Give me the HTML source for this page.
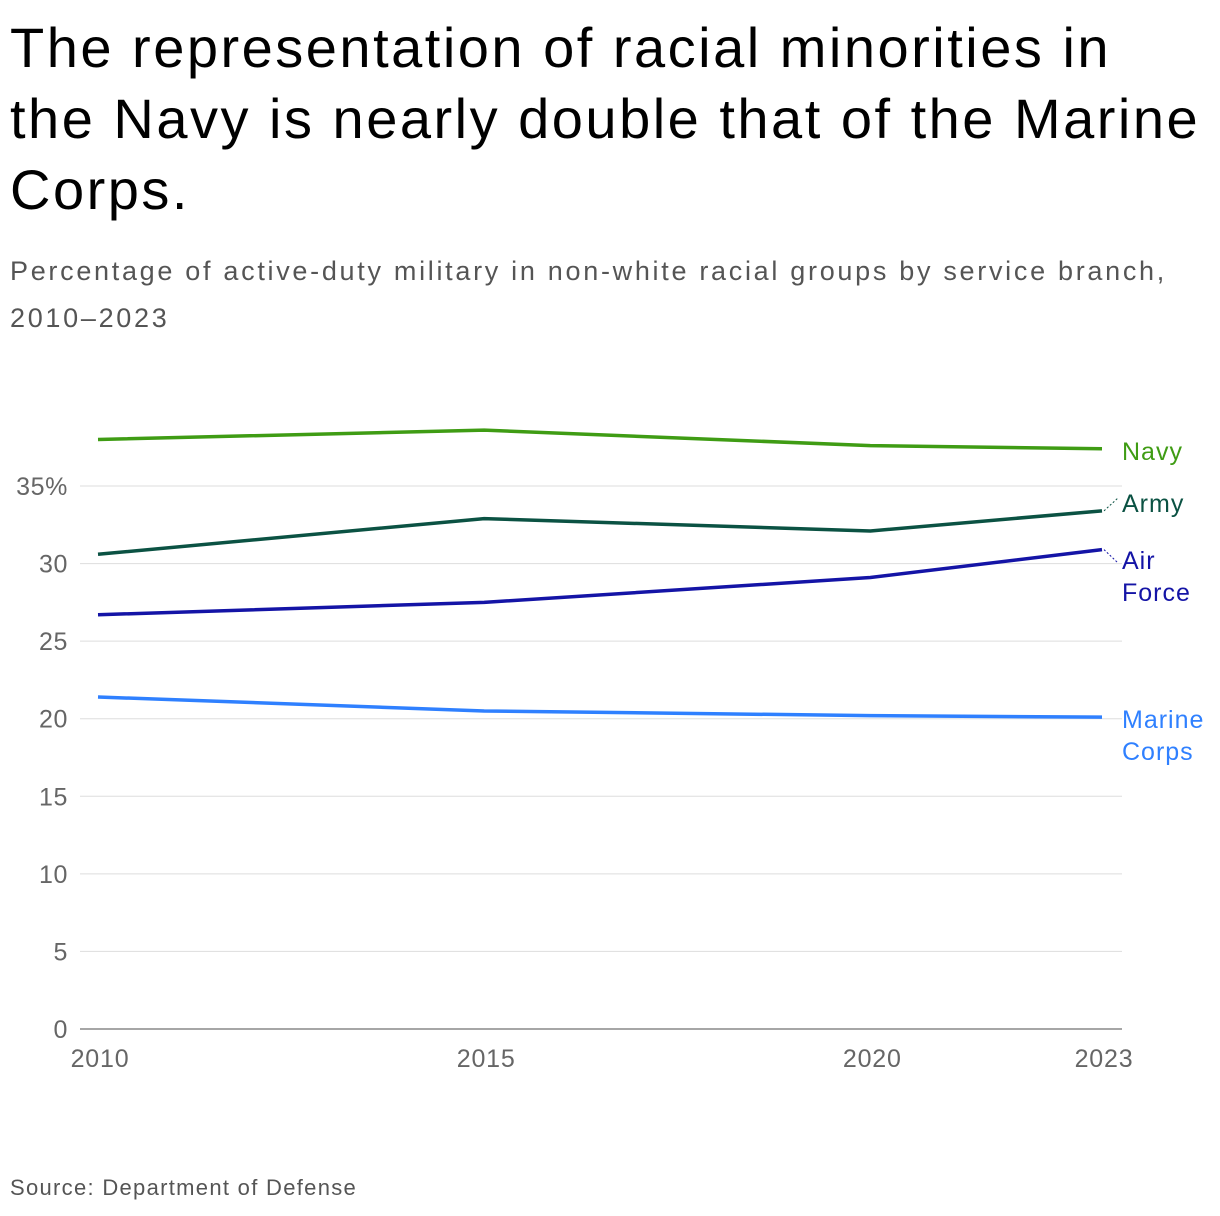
<!DOCTYPE html>
<html><head><meta charset="utf-8">
<style>
body{margin:0;background:#fff;width:1220px;height:1216px;overflow:hidden;font-family:"Liberation Sans",sans-serif;position:relative}
#title{position:absolute;left:10px;top:12px;font-size:56px;line-height:71px;color:#000;margin:0;font-weight:normal;letter-spacing:2.5px;white-space:nowrap}
#sub{position:absolute;left:10px;top:248px;font-size:27px;line-height:47px;color:#555;white-space:nowrap;letter-spacing:2.7px}
#src{position:absolute;left:10px;top:1175px;font-size:22px;color:#555;letter-spacing:1.3px}
svg{position:absolute;left:0;top:0}
</style></head><body>
<h1 id="title">The representation of racial minorities in<br>the Navy is nearly double that of the Marine<br>Corps.</h1>
<div id="sub">Percentage of active-duty military in non-white racial groups by service branch,<br>2010–2023</div>
<div id="src">Source: Department of Defense</div>
<svg id="chart" width="1220" height="1216"></svg>
<script>
const years=[2010,2015,2020,2023];
const yTicks=[0,5,10,15,20,25,30,35];
const navy=[38.0,38.6,37.6,37.4];
const army=[30.6,32.9,32.1,33.4];
const airForce=[26.7,27.5,29.1,30.9];
const marines=[21.4,20.5,20.2,20.1];
const seriesNames=["Navy","Army","Air Force","Marine Corps"];
const NS="http://www.w3.org/2000/svg";
const svg=document.getElementById('chart');
const x=v=>98+(v-2010)*(1102-98)/13;
const y=v=>1029-v*(1029-486)/35;
function mk(t,a){const e=document.createElementNS(NS,t);for(const k in a)e.setAttribute(k,a[k]);svg.appendChild(e);return e;}
yTicks.forEach(t=>{
  if(t>0){const g=mk('line',{x1:80,x2:1122,y1:y(t),y2:y(t),stroke:'#ddd','stroke-width':1});
  
  }
  const l=mk('text',{x:68,y:y(t)+9,'text-anchor':'end','font-size':25,'letter-spacing':0.6,fill:'#666','font-family':'Liberation Sans, sans-serif'});
  l.textContent=t===35?'35%':t;
  
  
});
const ax=mk('line',{x1:80,x2:1122,y1:1029,y2:1029,stroke:'#888','stroke-width':1.5});


years.forEach(yr=>{
  const l=mk('text',{x:x(yr)+2,y:1067,'text-anchor':'middle','font-size':25,'letter-spacing':0.8,fill:'#666','font-family':'Liberation Sans, sans-serif'});
  l.textContent=yr;
  
  
});
const all=[navy,army,airForce,marines];
const colors=["#3f9c14","#0b5243","#1414a6","#2f80ff"];
const labelY=[[460],[512],[569,601],[728,760]];
all.forEach((s,i)=>{
  const p=mk('polyline',{points:s.map((v,j)=>x(years[j])+','+y(v)).join(' '),fill:'none',stroke:colors[i],'stroke-width':3.5,'stroke-linejoin':'round'});
  
  
  const words=seriesNames[i]==="Navy"||seriesNames[i]==="Army"?[seriesNames[i]]:seriesNames[i].split(' ');
  words.forEach((w,k)=>{
    const t=mk('text',{x:1122,y:labelY[i][k],'font-size':25,'letter-spacing':1,fill:colors[i],'font-family':'Liberation Sans, sans-serif'});
    t.textContent=w;
    
    
  });
});
const c1=mk('line',{x1:1104,y1:y(army[3]),x2:1118,y2:498,stroke:colors[1],'stroke-width':1,'stroke-dasharray':'2,2'});


const c2=mk('line',{x1:1104,y1:y(airForce[3]),x2:1118,y2:563,stroke:colors[2],'stroke-width':1,'stroke-dasharray':'2,2'});


</script>
</body></html>
